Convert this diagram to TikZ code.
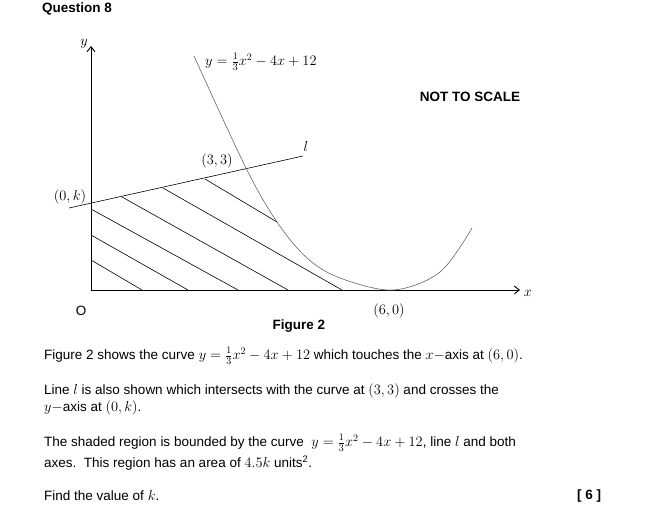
\documentclass[tikz,border=0pt]{standalone}
\usepackage{fontspec}
\setmainfont{Liberation Sans}
\usetikzlibrary{arrows.meta}
\newcommand{\mm}[1]{{\fontsize{14.5}{16}\selectfont$#1$}}
\begin{document}
\begin{tikzpicture}[x=1pt,y=-1pt,font=\fontsize{13.5}{15}\selectfont,
  axis/.style={line width=0.9pt,-{Straight Barb[length=5pt,width=8pt]}},
  hatch/.style={line width=0.6pt},
  txt/.style={anchor=west,inner sep=0pt}]
\useasboundingbox (0,0) rectangle (667,515);
\node[txt,font=\fontsize{13.5}{15}\selectfont\bfseries] (q) at (42,9) {Question 8};
\coordinate (O) at (91,290);
\coordinate (ytop) at (91,46);
\coordinate (xend) at (520,290);
\draw[axis] (O) -- (ytop);
\draw[axis] (O) -- (xend);
\coordinate (l0) at (69,208);
\coordinate (l1) at (303,156);
\draw[line width=0.6pt] (l0) -- (l1);
\draw[gray!80!black,line width=0.6pt] plot[smooth,tension=0.55] coordinates {(194,56) (246,168) (277,222) (307,258) (340,278) (393,290) (440,272) (472,228)};
\draw[hatch] (91,260) -- (142,290);
\draw[hatch] (91,235) -- (188,290);
\draw[hatch] (91,209) -- (238,290);
\draw[hatch] (122,197) -- (288,290);
\draw[hatch] (163,188) -- (342,290);
\draw[hatch] (205,179) -- (277,222);
\node (ylab) at (84,44) {\mm{y}};
\node (xlab) at (528,293) {\mm{x}};
\node (olab) at (81,311) {O};
\node (p60) at (389,311) {\mm{(6,0)}};
\node (p0k) at (70,197) {\mm{(0,k)}};
\node (p33) at (217,161) {\mm{(3,3)}};
\node (llab) at (306,146) {\mm{l}};
\node[txt] (eq) at (205,62) {\mm{y=\frac{1}{3}x^2-4x+12}};
\node[font=\fontsize{13.5}{15}\selectfont\bfseries] (nts) at (470,97) {NOT TO SCALE};
\node[font=\fontsize{13.5}{15}\selectfont\bfseries] (fig) at (299,326) {Figure 2};
\node[txt] (t1) at (44,356) {Figure 2 shows the curve \mm{y=\frac{1}{3}x^2-4x+12} which touches the \mm{x-}axis at \mm{(6,0)}.};
\node[txt] (t2) at (44,391) {Line \mm{l} is also shown which intersects with the curve at \mm{(3,3)} and crosses the};
\node[txt] (t3) at (44,408) {\mm{y-}axis at \mm{(0,k)}.};
\node[txt] (t4) at (44,443) {The shaded region is bounded by the curve\ \ \mm{y=\frac{1}{3}x^2-4x+12}, line \mm{l} and both};
\node[txt] (t5) at (44,463) {axes.\ \ This region has an area of \mm{4.5k} units\textsuperscript{2}.};
\node[txt] (t6) at (44,496) {Find the value of \mm{k}.};
\node[txt,font=\fontsize{13.5}{15}\selectfont\bfseries] (m) at (577,496) {[ 6 ]};
\end{tikzpicture}
\end{document}
